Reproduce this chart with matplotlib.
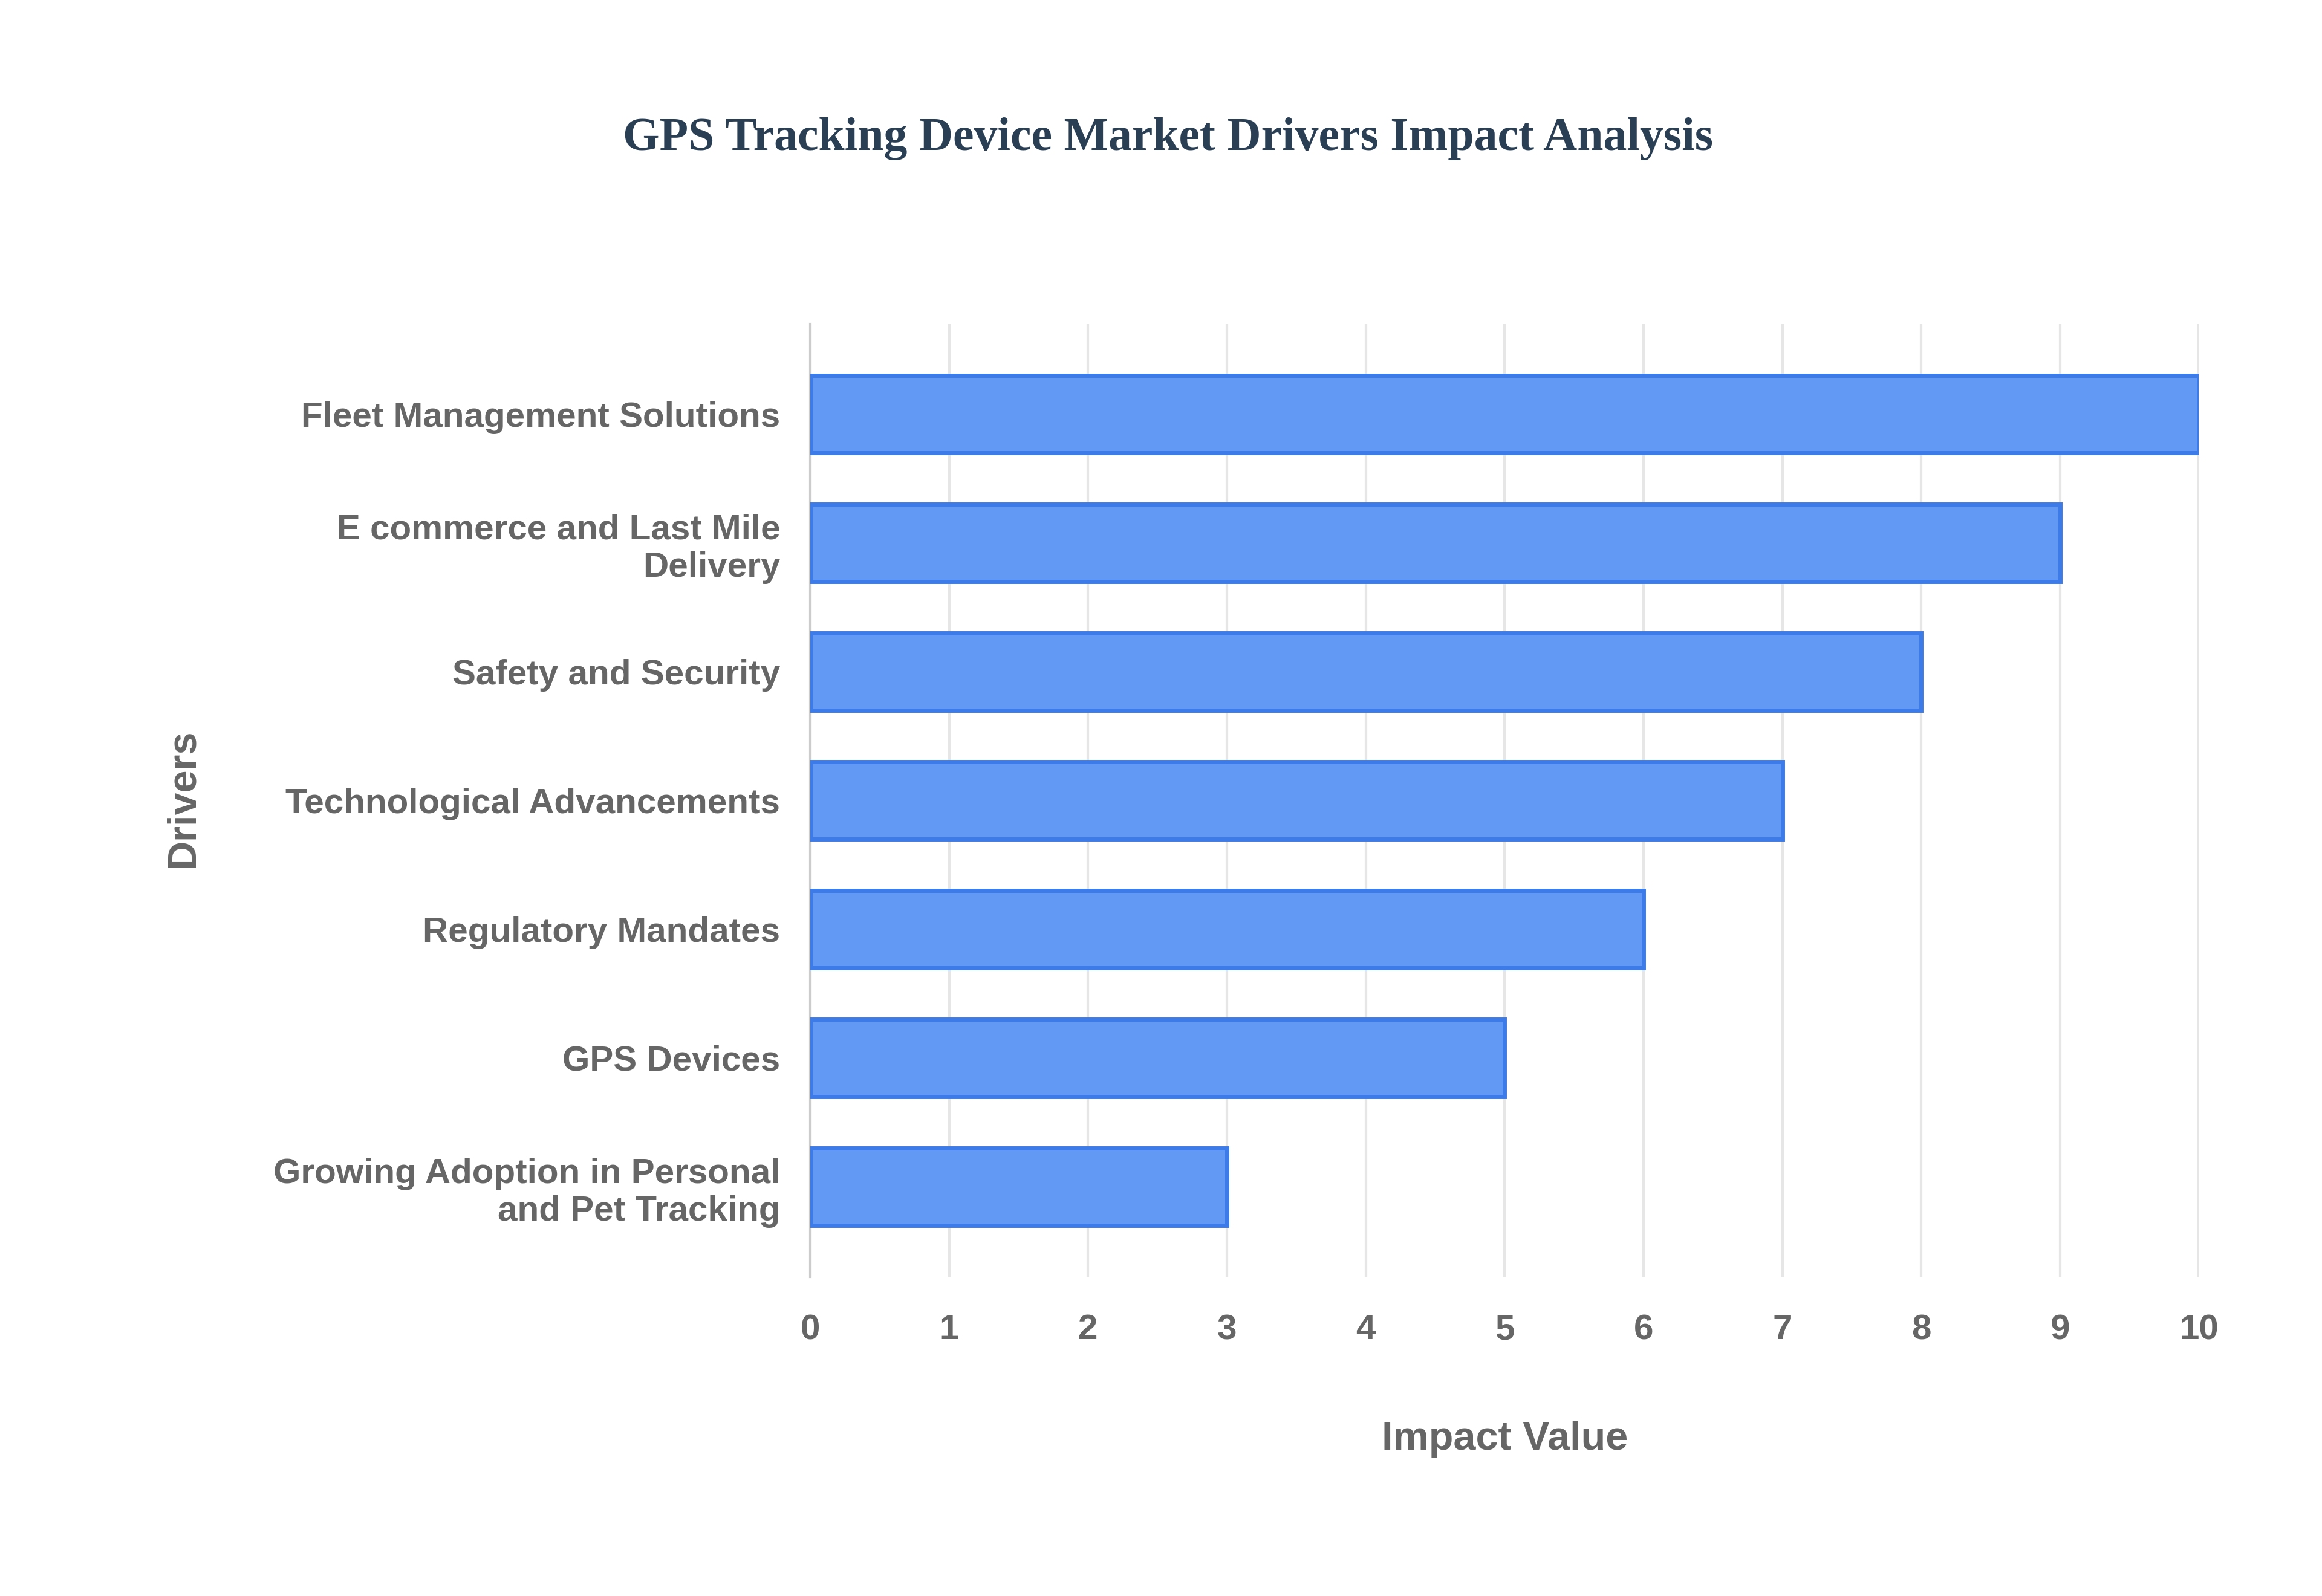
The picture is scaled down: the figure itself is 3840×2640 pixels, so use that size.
import matplotlib.pyplot as plt

drivers = ["Fleet Management Solutions", "E commerce and Last Mile\nDelivery",
           "Safety and Security", "Technological Advancements",
           "Regulatory Mandates", "GPS Devices",
           "Growing Adoption in Personal\nand Pet Tracking"]
impact = [10, 9, 8, 7, 6, 5, 3]

fig = plt.figure(figsize=(19.2, 13.2), dpi=200)
ax = fig.add_axes([0.349, 0.2, 0.598, 0.597])

ypos = list(range(len(drivers)))[::-1]
ax.barh(ypos, impact, height=0.6, color="#6199f5", edgecolor="#3d7ce8", linewidth=2.5, zorder=3)

ax.set_xlim(0, 10)
ax.set_ylim(-0.7, 6.7)
ax.set_xticks(range(11))
ax.set_yticks(ypos)
ax.set_yticklabels(drivers, fontsize=21, fontweight="bold", color="#666666", family="Liberation Sans")
for lab in ax.get_xticklabels():
    lab.set_fontsize(21); lab.set_fontweight("bold"); lab.set_color("#666666"); lab.set_family("Liberation Sans")
ax.tick_params(length=0, pad=18)
ax.tick_params(axis="x", pad=22)
ax.grid(axis="x", color="#e6e6e6", linewidth=1.5, zorder=0)
for s in ["top", "right", "bottom"]:
    ax.spines[s].set_visible(False)
ax.spines["left"].set_color("#cccccc")
ax.spines["left"].set_linewidth(1.5)

fig.text(0.648, 0.098, "Impact Value", ha="center", va="center", fontsize=24,
         fontweight="bold", color="#666666", family="Liberation Sans")
fig.text(0.079, 0.5, "Drivers", ha="center", va="center", rotation=90, fontsize=24,
         fontweight="bold", color="#666666", family="Liberation Sans")
fig.text(0.503, 0.913, "GPS Tracking Device Market Drivers Impact Analysis", ha="center",
         va="center", fontsize=28, fontweight="bold", color="#2a3f54", family="Liberation Serif")

fig.savefig("out.png", dpi=200, facecolor="white")
